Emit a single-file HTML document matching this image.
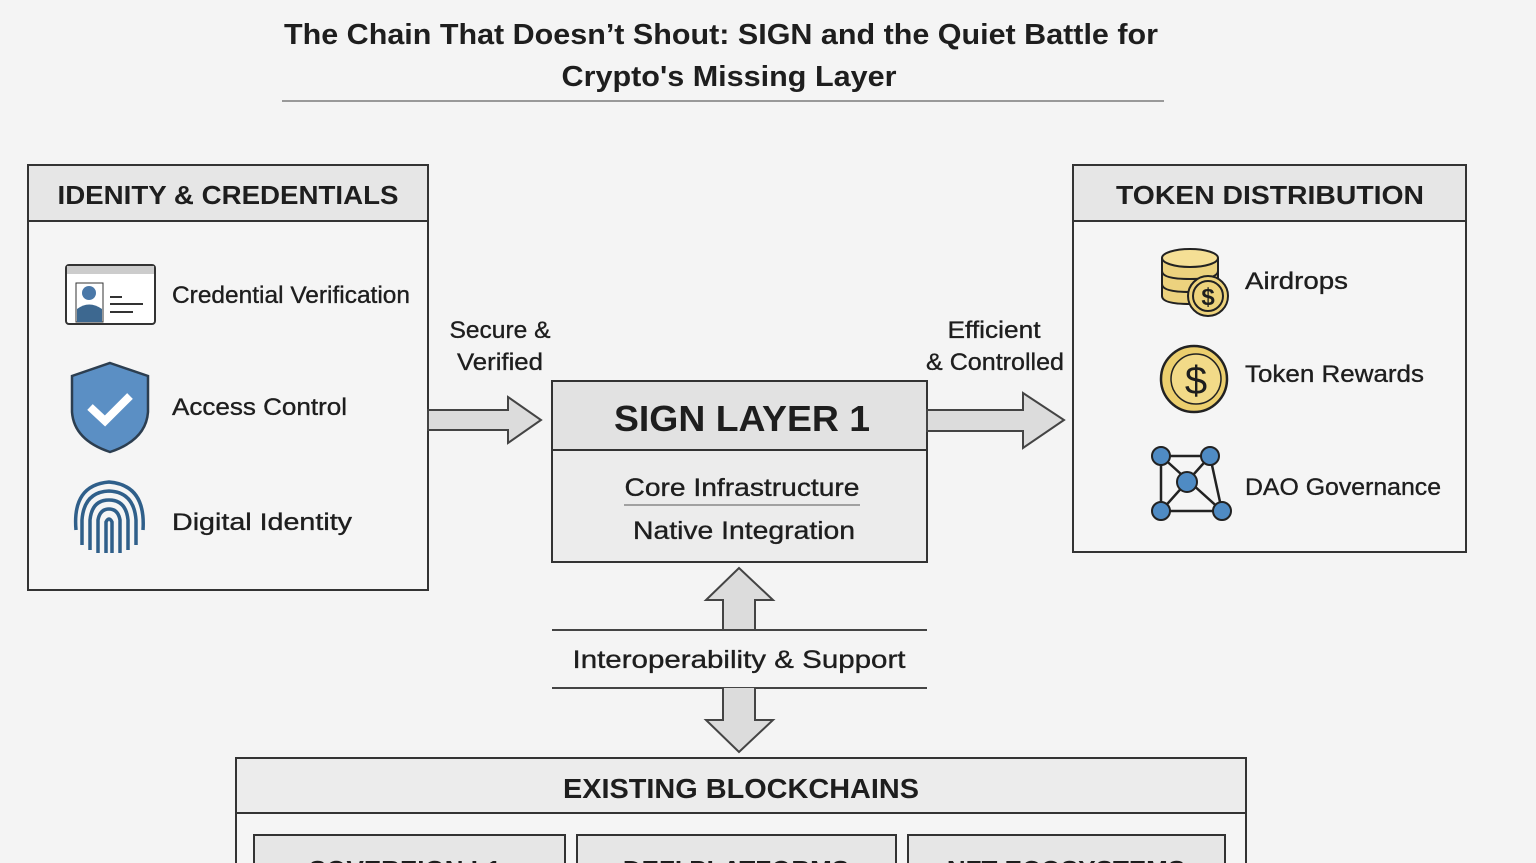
<!DOCTYPE html>
<html><head><meta charset="utf-8"><style>
html,body{margin:0;padding:0;background:#f4f4f4;}
svg{display:block;}
text{font-family:"Liberation Sans","DejaVu Sans",sans-serif;fill:#1e1e1e;}
.m{stroke:#1e1e1e;stroke-width:0.35;}
</style></head><body>
<svg width="1536" height="863" viewBox="0 0 1536 863" xmlns="http://www.w3.org/2000/svg">
<rect width="1536" height="863" fill="#f4f4f4"/>
<!-- Title -->
<text x="721" y="44" text-anchor="middle" font-size="29" textLength="874" lengthAdjust="spacingAndGlyphs" font-weight="bold" fill="#2a2a2a">The Chain That Doesn’t Shout: SIGN and the Quiet Battle for</text>
<text x="729" y="86" text-anchor="middle" font-size="29" textLength="335" lengthAdjust="spacingAndGlyphs" font-weight="bold" fill="#2a2a2a">Crypto's Missing Layer</text>
<line x1="282" y1="101" x2="1164" y2="101" stroke="#999" stroke-width="2"/>

<!-- Left box -->
<rect x="28" y="165" width="400" height="425" fill="#f5f5f5" stroke="#333" stroke-width="2"/>
<rect x="28" y="165" width="400" height="56" fill="#e6e6e6" stroke="#333" stroke-width="2"/>
<text x="228" y="204" text-anchor="middle" font-size="26" font-weight="bold" textLength="341" lengthAdjust="spacingAndGlyphs">IDENITY &amp; CREDENTIALS</text>
<!-- card icon -->
<rect x="66" y="265" width="89" height="59" rx="3" fill="#fff" stroke="#333" stroke-width="2"/>
<rect x="67" y="266" width="87" height="8" fill="#ccc"/>
<rect x="76" y="283" width="27" height="39" fill="#fff" stroke="#333" stroke-width="1"/>
<circle cx="89" cy="293" r="7" fill="#4a78a8"/>
<path d="M77 322 V309 Q89 300 102 309 V322 Z" fill="#3d6890"/>
<line x1="110" y1="297" x2="122" y2="297" stroke="#333" stroke-width="2"/>
<line x1="110" y1="304" x2="143" y2="304" stroke="#333" stroke-width="2"/>
<line x1="110" y1="312" x2="133" y2="312" stroke="#333" stroke-width="2"/>
<text class="m" x="172" y="303" font-size="24" textLength="238" lengthAdjust="spacingAndGlyphs">Credential Verification</text>
<!-- shield -->
<path d="M110 363 L148 376 V412 Q146 440 110 452 Q74 440 72 412 V376 Z" fill="#5b8fc4" stroke="#2c3e50" stroke-width="2.5"/>
<path d="M90 407 L105 421 L130 396" fill="none" stroke="#fff" stroke-width="8"/>
<text class="m" x="172" y="415" font-size="24" textLength="175" lengthAdjust="spacingAndGlyphs">Access Control</text>
<!-- fingerprint -->
<g fill="none" stroke="#2f5f8a" stroke-width="3.5">
<path d="M76 530 Q72 485 109 482 Q146 485 143 530"/>
<path d="M82 545 V520 Q84 492 109 491 Q134 492 136 520 V545"/>
<path d="M90 550 V520 Q92 500 109 500 Q126 500 128 520 V550"/>
<path d="M98 553 V520 Q100 509 109 509 Q118 509 120 520 V553"/>
<path d="M106 553 V522 Q109 516 112 522 V553"/>
</g>
<text class="m" x="172" y="530" font-size="24" textLength="180" lengthAdjust="spacingAndGlyphs">Digital Identity</text>

<!-- Left arrow -->
<path d="M428 410 H508 V397 L541 420 L508 443 V430 H428 Z" fill="#dcdcdc" stroke="#444" stroke-width="2"/>
<text class="m" x="500" y="338" text-anchor="middle" font-size="24" textLength="101" lengthAdjust="spacingAndGlyphs">Secure &amp;</text>
<text class="m" x="500" y="370" text-anchor="middle" font-size="24" textLength="86" lengthAdjust="spacingAndGlyphs">Verified</text>

<!-- Center box -->
<rect x="552" y="381" width="375" height="181" fill="#ececec" stroke="#333" stroke-width="2"/>
<rect x="552" y="381" width="375" height="69" fill="#e2e2e2" stroke="#333" stroke-width="2"/>
<text x="742" y="431" text-anchor="middle" font-size="36" font-weight="bold" textLength="256" lengthAdjust="spacingAndGlyphs">SIGN LAYER 1</text>
<text class="m" x="742" y="496" text-anchor="middle" font-size="25" textLength="235" lengthAdjust="spacingAndGlyphs">Core Infrastructure</text>
<line x1="624" y1="505" x2="860" y2="505" stroke="#888" stroke-width="1.5"/>
<text class="m" x="744" y="539" text-anchor="middle" font-size="25" textLength="222" lengthAdjust="spacingAndGlyphs">Native Integration</text>

<!-- Right arrow -->
<path d="M927 410 H1023 V393 L1064 420 L1023 448 V431 H927 Z" fill="#dcdcdc" stroke="#444" stroke-width="2"/>
<text class="m" x="994" y="338" text-anchor="middle" font-size="24" textLength="93" lengthAdjust="spacingAndGlyphs">Efficient</text>
<text class="m" x="995" y="370" text-anchor="middle" font-size="24" textLength="138" lengthAdjust="spacingAndGlyphs">&amp; Controlled</text>

<!-- Right box -->
<rect x="1073" y="165" width="393" height="387" fill="#f5f5f5" stroke="#333" stroke-width="2"/>
<rect x="1073" y="165" width="393" height="56" fill="#e6e6e6" stroke="#333" stroke-width="2"/>
<text x="1270" y="204" text-anchor="middle" font-size="26" font-weight="bold" textLength="308" lengthAdjust="spacingAndGlyphs">TOKEN DISTRIBUTION</text>
<!-- coins stack -->
<g stroke="#222" stroke-width="2">
<path d="M1162 258 V296 Q1162 304 1190 304 Q1218 304 1218 296 V258" fill="#ecd27e"/>
<ellipse cx="1190" cy="258" rx="28" ry="9" fill="#f5df95"/>
<path d="M1162 271 Q1162 279 1190 279 Q1218 279 1218 271 M1162 284 Q1162 292 1190 292 Q1218 292 1218 284" fill="none"/>
<circle cx="1208" cy="296" r="20" fill="#eed37c"/>
<circle cx="1208" cy="296" r="15" fill="none"/>
</g>
<text x="1208" y="305" text-anchor="middle" font-size="24" font-weight="bold">$</text>
<text class="m" x="1245" y="289" font-size="24" textLength="103" lengthAdjust="spacingAndGlyphs">Airdrops</text>
<!-- coin -->
<circle cx="1194" cy="379" r="33" fill="#eccf6e" stroke="#222" stroke-width="2.5"/>
<circle cx="1196" cy="379" r="25" fill="#f2da88" stroke="#222" stroke-width="1.5"/>
<text x="1196" y="394" text-anchor="middle" font-size="40">$</text>
<text class="m" x="1245" y="382" font-size="24" textLength="179" lengthAdjust="spacingAndGlyphs">Token Rewards</text>
<!-- network -->
<g stroke="#222" stroke-width="2.5">
<line x1="1161" y1="456" x2="1210" y2="456"/><line x1="1161" y1="456" x2="1161" y2="511"/>
<line x1="1161" y1="511" x2="1222" y2="511"/><line x1="1210" y1="456" x2="1222" y2="511"/>
<line x1="1161" y1="456" x2="1222" y2="511"/><line x1="1210" y1="456" x2="1161" y2="511"/>
</g>
<g fill="#4f8bc4" stroke="#222" stroke-width="2">
<circle cx="1161" cy="456" r="9"/><circle cx="1210" cy="456" r="9"/>
<circle cx="1187" cy="482" r="10"/><circle cx="1161" cy="511" r="9"/><circle cx="1222" cy="511" r="9"/>
</g>
<text class="m" x="1245" y="495" font-size="24" textLength="196" lengthAdjust="spacingAndGlyphs">DAO Governance</text>

<!-- Up arrow -->
<path d="M723 630 V600 H706 L739 568 L773 600 H755 V630" fill="#dcdcdc" stroke="#444" stroke-width="2"/>
<line x1="552" y1="630" x2="927" y2="630" stroke="#444" stroke-width="2"/>
<line x1="552" y1="688" x2="927" y2="688" stroke="#444" stroke-width="2"/>
<text class="m" x="739" y="668" text-anchor="middle" font-size="25" textLength="333" lengthAdjust="spacingAndGlyphs">Interoperability &amp; Support</text>
<!-- Down arrow -->
<path d="M723 688 V720 H706 L739 752 L773 720 H755 V688" fill="#dcdcdc" stroke="#444" stroke-width="2"/>

<!-- Bottom box -->
<rect x="236" y="758" width="1010" height="120" fill="#f5f5f5" stroke="#333" stroke-width="2"/>
<rect x="236" y="758" width="1010" height="55" fill="#ececec" stroke="#333" stroke-width="2"/>
<text x="741" y="798" text-anchor="middle" font-size="28" font-weight="bold" textLength="356" lengthAdjust="spacingAndGlyphs">EXISTING BLOCKCHAINS</text>
<rect x="254" y="835" width="311" height="50" fill="#e6e6e6" stroke="#333" stroke-width="2"/>
<rect x="577" y="835" width="319" height="50" fill="#e6e6e6" stroke="#333" stroke-width="2"/>
<rect x="908" y="835" width="317" height="50" fill="#e6e6e6" stroke="#333" stroke-width="2"/>
<text x="405" y="879" text-anchor="middle" font-size="26" font-weight="bold">SOVEREIGN L1</text>
<text x="736" y="879" text-anchor="middle" font-size="26" font-weight="bold">DEFI PLATFORMS</text>
<text x="1066" y="879" text-anchor="middle" font-size="26" font-weight="bold">NFT ECOSYSTEMS</text>
</svg>
</body></html>
